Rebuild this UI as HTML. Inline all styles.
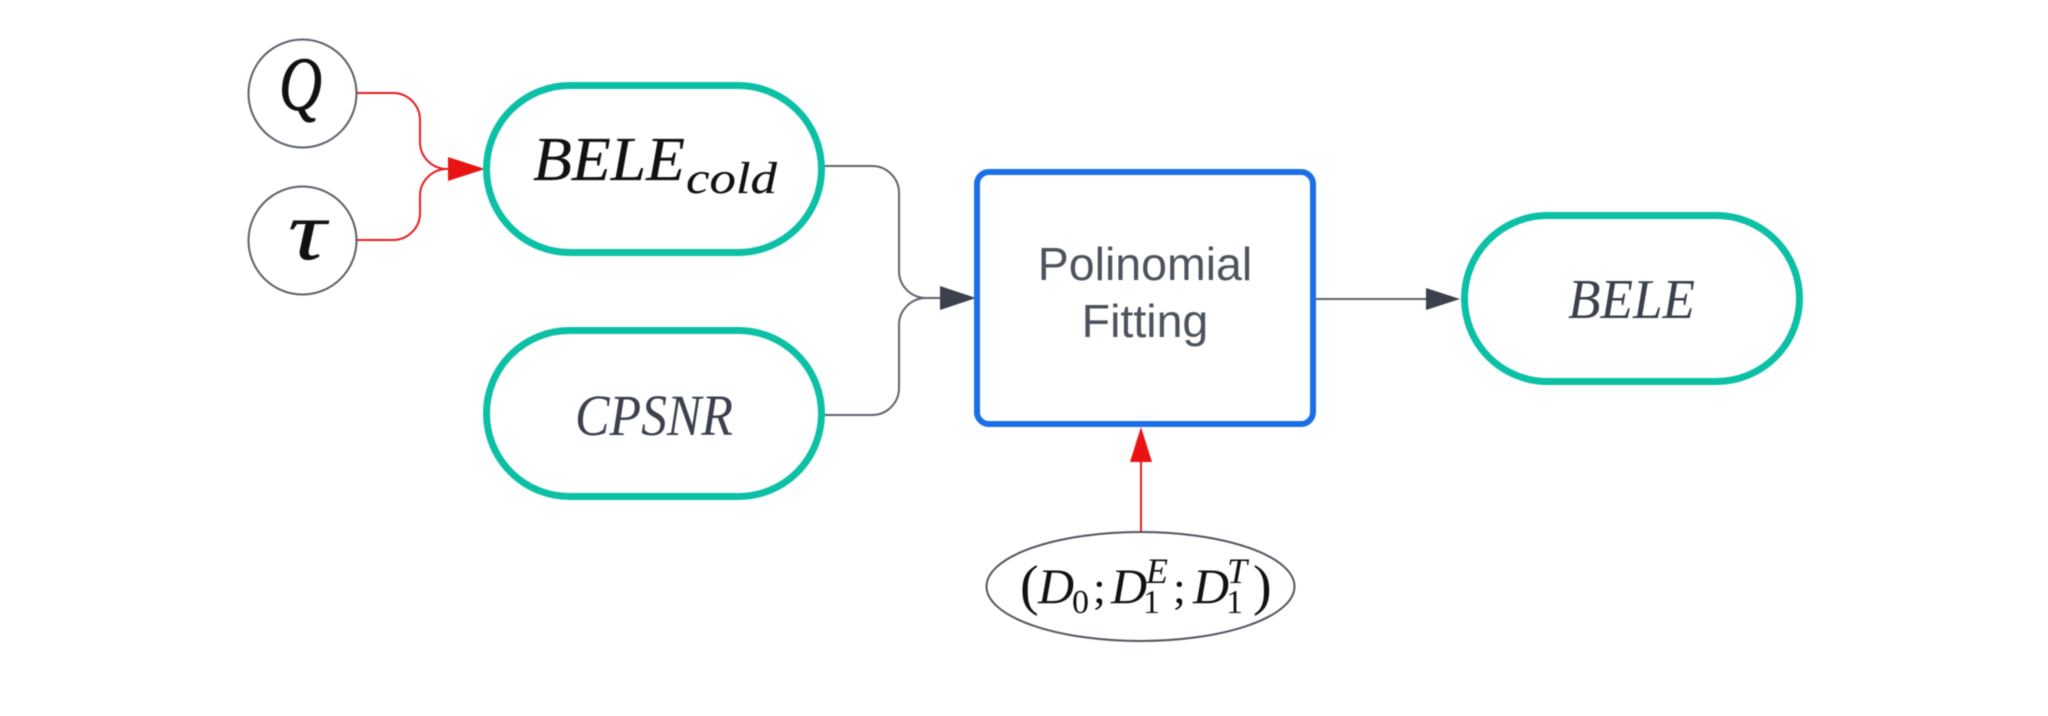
<!DOCTYPE html>
<html>
<head>
<meta charset="utf-8">
<style>
html,body{margin:0;padding:0;background:#fff;width:2048px;height:716px;overflow:hidden}
svg{display:block;filter:blur(0.5px)}
text{font-family:"Liberation Serif",serif}
.i{font-style:italic}
</style>
</head>
<body>
<svg width="2048" height="716" viewBox="0 0 2048 716" xmlns="http://www.w3.org/2000/svg">
<rect width="2048" height="716" fill="#fff"/>

<!-- red connectors -->
<g fill="none" stroke="#e81a1f" stroke-width="2">
<path d="M357 93H393A27 27 0 0 1 420 120V142A27 27 0 0 0 447 169H452"/>
<path d="M357 240H393A27 27 0 0 0 420 213V196A27 27 0 0 1 447 169"/>
<path d="M1141 532V460"/>
</g>
<polygon points="448,157 485,169 448,181" fill="#e81313"/>
<polygon points="1141,427 1152,462 1130,462" fill="#e81313"/>

<!-- grey connectors -->
<g fill="none" stroke="#5d636b" stroke-width="2">
<path d="M824 166H872A27 27 0 0 1 899 193V271A27 27 0 0 0 926 298H945"/>
<path d="M825 415H872A27 27 0 0 0 899 388V325A27 27 0 0 1 926 298"/>
<path d="M1316 299H1430"/>
</g>
<polygon points="940,286 976,298 940,310" fill="#3a414d"/>
<polygon points="1426,288 1460,299 1426,310" fill="#3a414d"/>

<!-- circles -->
<circle cx="302.5" cy="93.5" r="54" fill="#fff" stroke="#5a6068" stroke-width="2"/>
<circle cx="302.5" cy="240.5" r="54" fill="#fff" stroke="#5a6068" stroke-width="2"/>
<text x="279" y="110" class="i" font-size="76" fill="#111" stroke="#111" stroke-width="0.7" textLength="43" lengthAdjust="spacingAndGlyphs">Q</text>
<text x="288" y="259" class="i" font-size="84" fill="#111" stroke="#111" stroke-width="0.3" textLength="38" lengthAdjust="spacingAndGlyphs">τ</text>

<!-- pills -->
<g fill="#fff" stroke="#0cc0a5" stroke-width="7">
<rect x="486.5" y="85.5" width="335" height="167" rx="83.5" ry="83.5"/>
<rect x="486.5" y="330.5" width="335" height="166" rx="83" ry="83"/>
<rect x="1464.5" y="215.5" width="335" height="166" rx="83" ry="83"/>
</g>
<text x="533" y="180" class="i" font-size="62" fill="#111" stroke="#111" stroke-width="0.2" textLength="152" lengthAdjust="spacingAndGlyphs">BELE</text>
<text x="686" y="193" class="i" font-size="44" fill="#111" stroke="#111" stroke-width="0.2" textLength="91" lengthAdjust="spacingAndGlyphs">cold</text>
<text x="575" y="435" class="i" font-size="58" fill="#3a414d" textLength="158" lengthAdjust="spacingAndGlyphs">CPSNR</text>
<text x="1568" y="318" class="i" font-size="56" fill="#3a414d" textLength="127" lengthAdjust="spacingAndGlyphs">BELE</text>

<!-- blue box -->
<rect x="977" y="172" width="336" height="252" rx="12" ry="12" fill="#fff" stroke="#1a6fe6" stroke-width="6"/>
<text x="1145" y="280" text-anchor="middle" font-size="46.5" fill="#4c535d" style="font-family:'Liberation Sans',sans-serif">Polinomial</text>
<text x="1145" y="337" text-anchor="middle" font-size="46.5" fill="#4c535d" style="font-family:'Liberation Sans',sans-serif">Fitting</text>

<!-- ellipse -->
<ellipse cx="1140.5" cy="586.5" rx="154" ry="54.5" fill="#fff" stroke="#4f555d" stroke-width="2"/>
<g fill="#111">
<text x="1020" y="604" font-size="56">(</text>
<text x="1038" y="603" class="i" font-size="50">D</text>
<text x="1072" y="613" font-size="34">0</text>
<text x="1093" y="603" font-size="46">;</text>
<text x="1111" y="603" class="i" font-size="50">D</text>
<text x="1146" y="583" class="i" font-size="36">E</text>
<text x="1143" y="613" font-size="34">1</text>
<text x="1173" y="603" font-size="46">;</text>
<text x="1193" y="603" class="i" font-size="50">D</text>
<text x="1227" y="583" class="i" font-size="36">T</text>
<text x="1226" y="613" font-size="34">1</text>
<text x="1253" y="604" font-size="56">)</text>
</g>
</svg>
</body>
</html>
